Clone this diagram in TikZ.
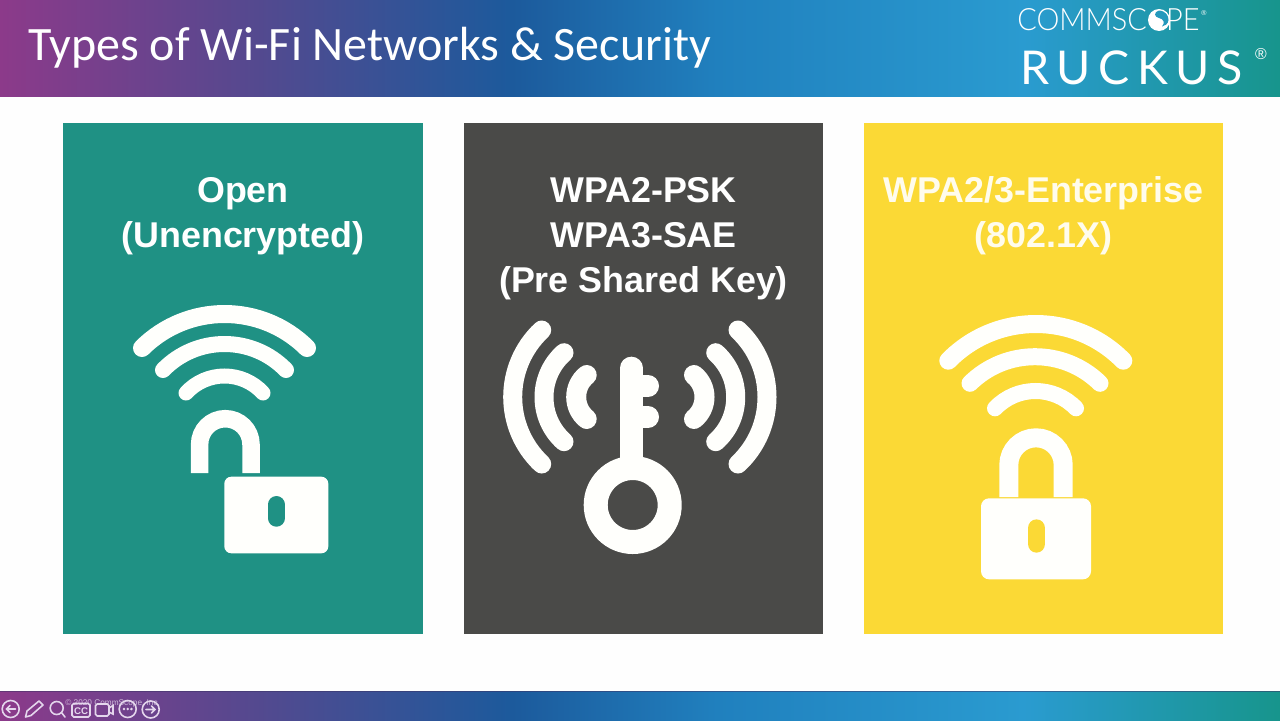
\documentclass[tikz,border=0pt]{standalone}
\usepackage{fontspec}
\setmainfont{Liberation Sans}
\newfontfamily\titlefont{Carlito}
\newfontfamily\logofont{Lato Light}
\newfontfamily\ruckfont[LetterSpace=16]{Lato}
\definecolor{cOpen}{HTML}{1F9184}
\definecolor{cKey}{HTML}{4A4A48}
\definecolor{cEnt}{HTML}{FBD935}
\definecolor{cIcon}{HTML}{FFFFFC}
\definecolor{cTool}{HTML}{E4D6EC}
\definecolor{g0}{HTML}{8C3A8A}
\definecolor{g1}{HTML}{54498F}
\definecolor{g2}{HTML}{1C5A9C}
\definecolor{g3}{HTML}{2080BE}
\definecolor{g4}{HTML}{2A9BD0}
\definecolor{g5}{HTML}{17958C}
\pgfdeclarehorizontalshading{barshade}{100bp}{
 color(0bp)=(g0);color(25bp)=(g0);
 color(35bp)=(g1);color(45bp)=(g2);
 color(53bp)=(g3);color(65bp)=(g4);
 color(75bp)=(g5);color(100bp)=(g5)}
\tikzset{
 panel/.style={fill=#1,draw=none},
 headline/.style={text=#1,font=\fontsize{20.4pt}{25.6pt}\selectfont\bfseries,align=center,anchor=base},
 glyph/.style={draw=cIcon,line cap=round},
 toolicon/.style={draw=cTool,line width=0.9pt}
}
% circular stroke from A to B, bulging to the left of A->B, with sag s (all px)
\newcommand{\arcstroke}[6]{%
 \pgfmathsetmacro{\dxv}{#3-#1}\pgfmathsetmacro{\dyv}{#4-#2}%
 \pgfmathsetmacro{\lenv}{veclen(\dxv,\dyv)}%
 \pgfmathsetmacro{\uxv}{\dxv/\lenv}\pgfmathsetmacro{\uyv}{\dyv/\lenv}%
 \pgfmathsetmacro{\nxv}{\uyv}\pgfmathsetmacro{\nyv}{-\uxv}%
 \pgfmathsetmacro{\wv}{\lenv/2}%
 \pgfmathsetmacro{\rv}{(\wv/#5*\wv+#5)/2}%
 \pgfmathsetmacro{\av}{2*atan(#5/\wv)}%
 \pgfmathsetmacro{\kv}{4/3*(#5/\wv)*\rv}%
 \pgfmathsetmacro{\ca}{cos(\av)}\pgfmathsetmacro{\sa}{sin(\av)}%
 \pgfmathsetmacro{\cax}{#1+\kv*(\ca*\uxv+\sa*\nxv)}%
 \pgfmathsetmacro{\cay}{#2+\kv*(\ca*\uyv+\sa*\nyv)}%
 \pgfmathsetmacro{\cbx}{#3+\kv*(-\ca*\uxv+\sa*\nxv)}%
 \pgfmathsetmacro{\cby}{#4+\kv*(-\ca*\uyv+\sa*\nyv)}%
 \draw[glyph,line width=#6*0.02cm] (#1,#2) .. controls (\cax,\cay) and (\cbx,\cby) .. (#3,#4);%
}
% shackle: centre x, half span, top of centre line, bottom, thickness
\newcommand{\shacklepath}[5]{%
 \pgfmathsetmacro{\xl}{#1-#2}\pgfmathsetmacro{\xr}{#1+#2}%
 \pgfmathsetmacro{\ym}{#3+#2}\pgfmathsetmacro{\kk}{0.5523*#2}%
 \pgfmathsetmacro{\ymk}{\ym-\kk}\pgfmathsetmacro{\xlk}{#1-\kk}\pgfmathsetmacro{\xrk}{#1+\kk}%
 \draw[draw=cIcon,line width=#5*0.02cm] (\xl,#4) -- (\xl,\ym) .. controls (\xl,\ymk) and (\xlk,#3) .. (#1,#3)
   .. controls (\xrk,#3) and (\xr,\ymk) .. (\xr,\ym) -- (\xr,#4);%
}
\begin{document}
\begin{tikzpicture}[x=0.02cm,y=-0.02cm]
\useasboundingbox (0,0) rectangle (1280,720);
\fill[white!99.5!black] (0,0) rectangle (1280,720);

% top and bottom bars
\shade[shading=barshade] (0,0) rectangle (1280,96.5);
\shade[shading=barshade] (0,691) rectangle (1280,720);
\fill[black!30!g1,opacity=.5] (0,690.5) rectangle (1280,692);

\node[text=white,font=\titlefont\fontsize{27.3pt}{30pt}\selectfont,anchor=base west,inner sep=0pt] (title) at (28,60) {Types of Wi-Fi Networks \& Security};

% logo
\node[text=white,font=\logofont\fontsize{17.5pt}{20pt}\selectfont,anchor=base west,inner sep=0pt,xscale=.94] (logoA) at (1017,30.5) {COMMSC};
\node[text=white,font=\logofont\fontsize{17.5pt}{20pt}\selectfont,anchor=base east,inner sep=0pt,xscale=.94] (logoC) at (1200,30.5) {PE};
\fill[white] (1159,20) circle [radius=11];
\fill[g4!70!g5] (1159,10.5) .. controls (1166,11) and (1168.5,16) .. (1168.5,20)
   .. controls (1168,24) and (1165,26) .. (1162,26.5)
   .. controls (1165,23) and (1164,19) .. (1159,18)
   .. controls (1154,17) and (1153.5,12) .. (1159,10.5) -- cycle;
\node[text=white,font=\fontsize{4pt}{5pt}\selectfont,anchor=base west,inner sep=0pt] (logoAr) at (1201,15) {®};
\node[text=white,font=\ruckfont\fontsize{26.5pt}{30pt}\selectfont,anchor=base west,inner sep=0pt] (logoB) at (1020,84.5) {RUCKUS};
\node[text=white,font=\fontsize{9pt}{10pt}\selectfont,anchor=center,inner sep=0pt] (logoBr) at (1261,54) {®};

% panels
\fill[panel=cOpen] (63,123) rectangle (423,634);
\fill[panel=cKey] (464,123) rectangle (823,634);
\fill[panel=cEnt] (864,123) rectangle (1223,634);

% headlines (anchor is the baseline of the last line)
\node[headline=white] (openText) at (243,247) {Open\\(Unencrypted)};
\node[headline=white] (keyText) at (643.5,292) {WPA2-PSK\\WPA3-SAE\\(Pre Shared Key)};
\node[headline=cIcon!92!cEnt] (entText) at (1043.5,247) {WPA2/3-Enterprise\\(802.1X)};

% open icon
\arcstroke{142}{348}{307}{348}{34}{18}
\arcstroke{163}{370}{286}{370}{26}{16}
\arcstroke{186}{393}{263}{393}{17}{15}
\shacklepath{225.3}{25.7}{418.7}{473}{17.5}
\fill[cIcon,rounded corners=7*0.02cm] (224.3,476.7) rectangle (328.3,553.3);
\draw[cOpen,line cap=round,line width=17*0.02cm] (276.3,504.5) -- (276.3,518.2);

% key icon
\arcstroke{541.7}{464}{541.7}{330}{29}{19}
\arcstroke{564}{441.7}{564}{352.7}{20}{19}
\arcstroke{586.7}{419}{586.7}{375}{10.5}{20}
\arcstroke{738}{330}{738}{464}{29}{19}
\arcstroke{715.7}{352.7}{715.7}{441.7}{20}{19}
\arcstroke{694}{375}{694}{419}{10.5}{20}
\draw[draw=cIcon,line width=22.7*0.02cm,line cap=round] (631.3,368) -- (631.3,460);
\draw[glyph,line width=22*0.02cm] (640,386) -- (648,386);
\draw[glyph,line width=22*0.02cm] (640,417) -- (648,417);
\draw[draw=cIcon,line width=24*0.02cm] (632.7,505) circle [radius=37];

% enterprise icon
\arcstroke{948.3}{360.7}{1123.3}{360.7}{36.7}{18}
\arcstroke{970}{383.3}{1100}{383.3}{26.6}{17}
\arcstroke{995}{408.3}{1076}{408.3}{17.3}{16}
\shacklepath{1036}{27.2}{437.8}{497}{19}
\fill[cIcon,rounded corners=8*0.02cm] (981,498.3) rectangle (1091,579.3);
\draw[cEnt,line cap=round,line width=17.7*0.02cm] (1036.5,528.2) -- (1036.5,543.8);

% toolbar
\draw[toolicon] (10.7,709) circle [radius=8.5];
\draw[toolicon,line cap=round] (15.5,709) -- (6.5,709) (10,705.5) -- (6.5,709) -- (10,712.5);
\draw[toolicon,line join=round] (25.5,717) -- (27,711) -- (39,701) -- (43,705) -- (31,715.5) -- cycle;
\draw[toolicon] (56.7,708) circle [radius=6.5];
\draw[toolicon,line cap=round] (61.5,712.5) -- (65,717);
\draw[toolicon,rounded corners=1pt] (72,703.5) rectangle (90,717);
\node[text=cTool,font=\fontsize{5.5pt}{6pt}\selectfont\bfseries,inner sep=0pt] (ccText) at (81,711) {CC};
\draw[toolicon,rounded corners=1pt] (95.5,704) rectangle (109,716);
\draw[toolicon] (109,708) -- (113,705.5) -- (113,714) -- (109,712);
\draw[toolicon] (127.7,709) circle [radius=8.5];
\foreach \dotx in {124,127.7,131.4} \fill[cTool] (\dotx,709) circle [radius=1.4];
\draw[toolicon] (150.7,709.5) circle [radius=8.5];
\draw[toolicon,line cap=round] (146,709.5) -- (155,709.5) (151.5,706) -- (155,709.5) -- (151.5,713);
\node[text=cTool,opacity=.8,font=\fontsize{4.7pt}{6pt}\selectfont,anchor=base west,inner sep=0pt] (copyText) at (65,705) {© 2020 CommScope, Inc.};
\end{tikzpicture}
\end{document}
